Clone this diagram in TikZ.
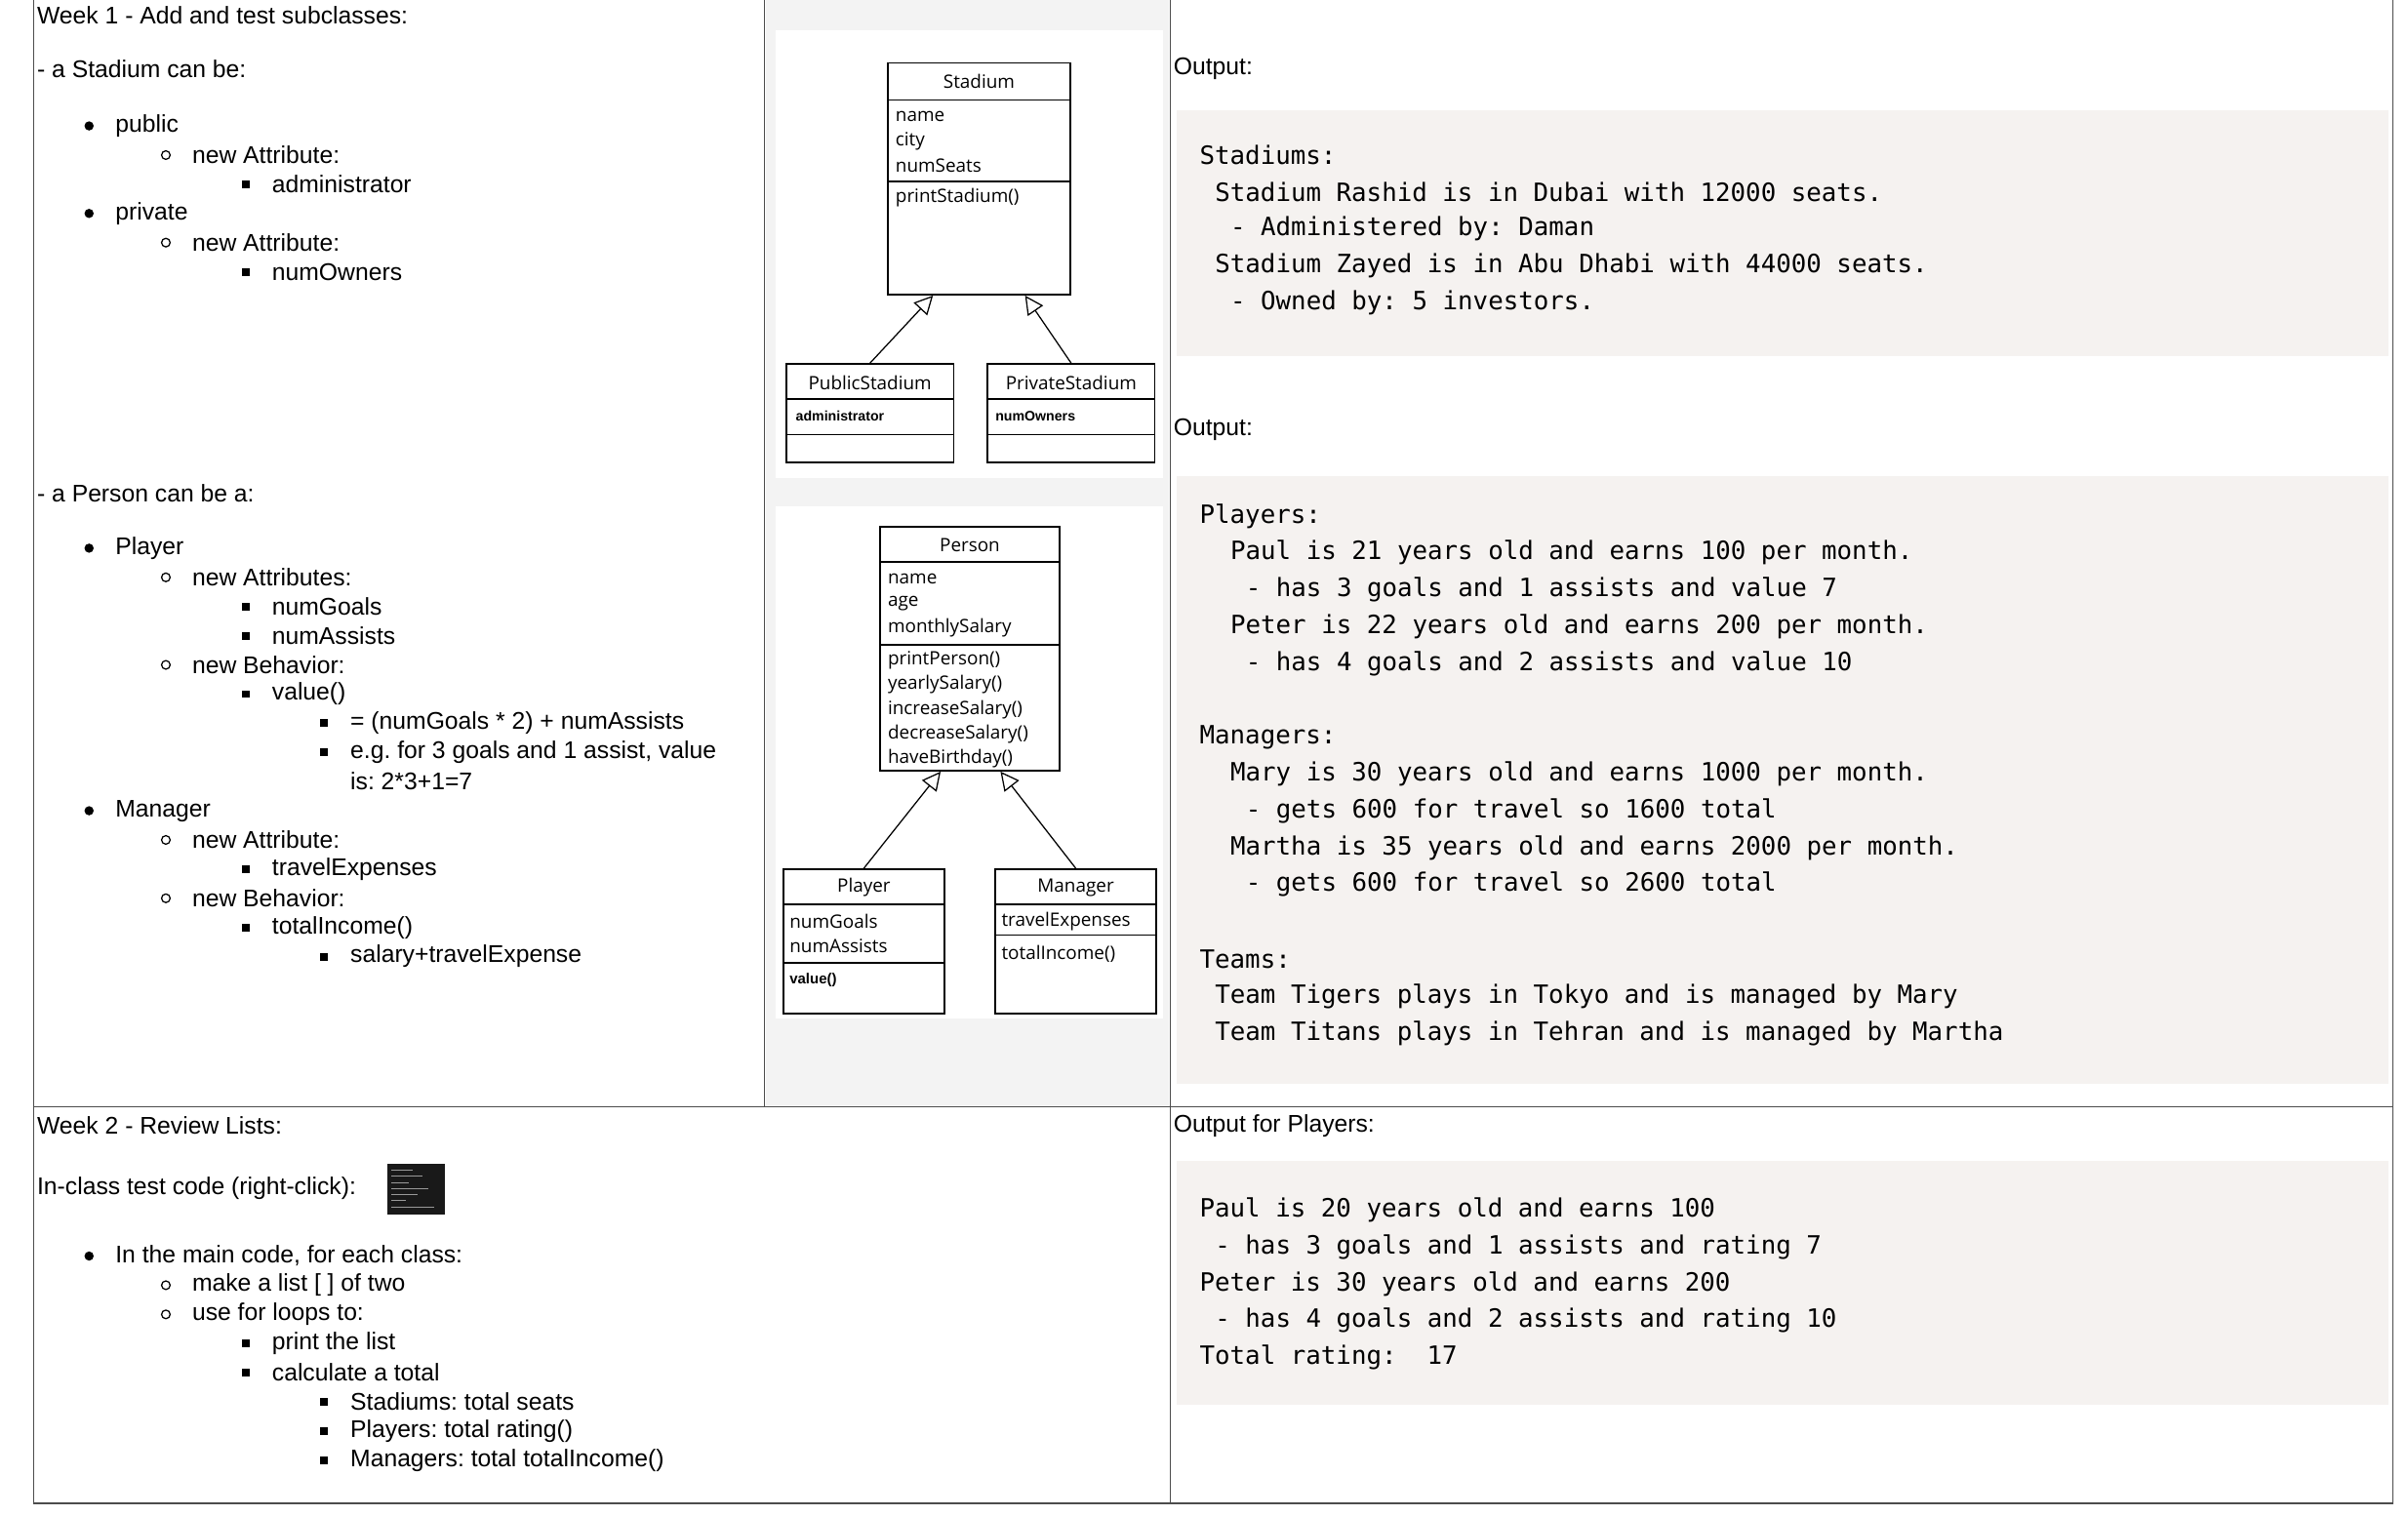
\documentclass[tikz,border=0pt]{standalone}
\usepackage{fontspec}
\setmainfont{Liberation Sans}
\newfontfamily\codefont{DejaVu Sans Mono}
\newfontfamily\umlfont{Open Sans}
\usetikzlibrary{arrows.meta}
\frenchspacing
\definecolor{codebg}{HTML}{F5F2F0}
\definecolor{colbg}{HTML}{F3F3F3}
\tikzset{
  txt/.style={anchor=west,inner sep=0pt,font=\fontsize{15.7}{18}\selectfont},
  code/.style={anchor=west,inner sep=0pt,font=\codefont\fontsize{16.4}{20}\selectfont},
  umlbox/.style={draw,line width=1pt,inner sep=0pt},
  umltxt/.style={anchor=west,inner sep=0pt,font=\umlfont\fontsize{12}{14}\selectfont},
  inh/.style={-{Triangle[open,length=12pt,width=12pt]},line width=0.8pt},
  frame/.style={line width=0.8pt,draw=black!70}
}
\newcommand\listmark[3]{% level, x, y
  \ifcase#1\or\fill (#2,#3) circle (3);%
  \or\draw[line width=0.8pt] (#2,#3) circle (2.8);%
  \or\fill (#2-2.5,#3-2.5) rectangle (#2+2.5,#3+2.5);%
  \or\fill (#2-2.5,#3-2.5) rectangle (#2+2.5,#3+2.5);\fi}
\begin{document}
\begin{tikzpicture}[x=1pt,y=-1pt]
\useasboundingbox (0,0) rectangle (1568,987);
% backgrounds
\fill[colbg] (499,0) rectangle (761,720);
\fill[white] (505,20) rectangle (757,311);
\fill[white] (505,330) rectangle (757,663);
\fill[codebg] (766,72) rectangle (1555,232);
\fill[codebg] (766,310) rectangle (1555,706);
\fill[codebg] (766,756) rectangle (1555,915);
% table lines
\draw[frame] (22,0) -- (22,979) -- (1558,979) -- (1558,0);
\draw[frame] (498,0) -- (498,721);
\draw[frame] (762,0) -- (762,979);
\draw[frame] (22,721) -- (1558,721);

% left column
\node[txt] (week1) at (24,10) {Week 1 - Add and test subclasses:};
\node[txt] (stadhead) at (24,45) {- a Stadium can be:};
\node[txt] (perhead) at (24,321) {- a Person can be a:};
\node[txt] (week2) at (24,733) {Week 2 - Review Lists:};
\node[txt] (testcode) at (24,774) {In-class test code (right-click):};
\foreach \lvl/\yy/\tx [count=\i] in {
  1/82/public, 2/101/{new Attribute:}, 3/120/administrator,
  1/139/private, 2/158/{new Attribute:}, 3/177/numOwners,
  1/357/Player, 2/376/{new Attributes:}, 3/395/numGoals, 3/414/numAssists,
  2/433/{new Behavior:}, 3/452/value(), 4/471/{= (numGoals * 2) + numAssists},
  4/490/{e.g. for 3 goals and 1 assist, value},
  1/528/Manager, 2/547/{new Attribute:}, 3/566/travelExpenses,
  2/585/{new Behavior:}, 3/604/totalIncome(), 4/623/salary+travelExpense,
  1/818/{In the main code, for each class:}, 2/837/{make a list [ ] of two},
  2/856/{use for loops to:}, 3/875/{print the list}, 3/894/{calculate a total},
  4/913/{Stadiums: total seats}, 4/932/{Players: total rating()},
  4/951/{Managers: total totalIncome()}}{
  \pgfmathsetmacro\bx{ifthenelse(\lvl==1,58,ifthenelse(\lvl==2,108,ifthenelse(\lvl==3,160,211)))}
  \listmark{\lvl}{\bx}{\yy}
  \node[txt] (item\i) at (\bx+17,\yy) {\tx};
}
\node[txt] (itemcont) at (228,509) {is: 2*3+1=7};
% thumbnail of the test code
\fill[black!90] (252,758) rectangle (290,791);
\foreach \yy/\ww in {762/14,766/20,770/11,774/24,778/17,782/9,786/28}
  \draw[white!60!black,line width=0.6pt] (255,\yy) -- ++(\ww,0);

% Stadium diagram
\node[umlbox,minimum width=119,minimum height=151] (stadium) at (637.5,116.5) {};
\draw[line width=1pt] (578,65) -- (697,65) (578,118) -- (697,118);
\node[umltxt,anchor=center] (stadname) at (637.5,53) {Stadium};
\node[umltxt] (stadattr) at (583,76) {name};
\node[umltxt] at (583,92) {city};
\node[umltxt] at (583,108) {numSeats};
\node[umltxt] (stadop) at (583,129) {printStadium()};
\node[umlbox,minimum width=109,minimum height=64] (pub) at (566.5,269) {};
\draw[line width=1pt] (512,260) -- (621,260) (512,283) -- (621,283);
\node[umltxt,anchor=center] (pubname) at (566.5,249) {PublicStadium};
\node[umltxt,font=\bfseries\fontsize{9}{10}\selectfont] (pubattr) at (518,271) {administrator};
\node[umlbox,minimum width=109,minimum height=64] (priv) at (697.5,269) {};
\draw[line width=1pt] (643,260) -- (752,260) (643,283) -- (752,283);
\node[umltxt,anchor=center] (privname) at (697.5,249) {PrivateStadium};
\node[umltxt,font=\bfseries\fontsize{9}{10}\selectfont] (privattr) at (648,271) {numOwners};
\draw[inh] (pub.north) -- ([xshift=-30pt]stadium.south);
\draw[inh] (priv.north) -- ([xshift=30pt]stadium.south);

% Person diagram
\node[umlbox,minimum width=117,minimum height=159] (person) at (631.5,422.5) {};
\draw[line width=1pt] (573,366) -- (690,366) (573,420) -- (690,420);
\node[umltxt,anchor=center] (pername) at (631.5,355) {Person};
\foreach \tx [count=\i] in {name,age,monthlySalary}
  \node[umltxt] (perattr\i) at (578,361+16*\i) {\tx};
\foreach \tx [count=\i] in {printPerson(),yearlySalary(),increaseSalary(),decreaseSalary(),haveBirthday()}
  \node[umltxt] (perop\i) at (578,414+16*\i) {\tx};
\node[umlbox,minimum width=105,minimum height=94] (player) at (562.5,613) {};
\draw[line width=1pt] (510,589) -- (615,589) (510,627) -- (615,627);
\node[umltxt,anchor=center] (playname) at (562.5,578) {Player};
\node[umltxt] (playattr1) at (514,600) {numGoals};
\node[umltxt] (playattr2) at (514,616) {numAssists};
\node[umltxt,font=\bfseries\fontsize{9.5}{11}\selectfont] (playop) at (514,638) {value()};
\node[umlbox,minimum width=105,minimum height=94] (manager) at (700.5,613) {};
\draw[line width=1pt] (648,589) -- (753,589) (648,609) -- (753,609);
\node[umltxt,anchor=center] (mgrname) at (700.5,578) {Manager};
\node[umltxt] (mgrattr) at (652,600) {travelExpenses};
\node[umltxt] (mgrop) at (652,621) {totalIncome()};
\draw[inh] (player.north) -- ([xshift=-19pt]person.south);
\draw[inh] (manager.north) -- ([xshift=20pt]person.south);

% right column
\node[txt] (out1) at (764,45) {Output:};
\node[txt] (out2) at (764,280) {Output:};
\node[txt] (out3) at (764,733) {Output for Players:};
\foreach \xx/\yy/\tx [count=\i] in {
  781/101/{Stadiums:}, 791/125/{Stadium Rashid is in Dubai with 12000 seats.},
  801/149/{- Administered by: Daman}, 791/173/{Stadium Zayed is in Abu Dhabi with 44000 seats.},
  801/197/{- Owned by: 5 investors.},
  781/336/{Players:}, 801/360/{Paul is 21 years old and earns 100 per month.},
  811/384/{- has 3 goals and 1 assists and value 7},
  801/408/{Peter is 22 years old and earns 200 per month.},
  811/432/{- has 4 goals and 2 assists and value 10},
  781/480/{Managers:}, 801/504/{Mary is 30 years old and earns 1000 per month.},
  811/528/{- gets 600 for travel so 1600 total},
  801/552/{Martha is 35 years old and earns 2000 per month.},
  811/576/{- gets 600 for travel so 2600 total},
  781/625/{Teams:}, 791/649/{Team Tigers plays in Tokyo and is managed by Mary},
  791/673/{Team Titans plays in Tehran and is managed by Martha},
  781/788/{Paul is 20 years old and earns 100},
  791/812/{- has 3 goals and 1 assists and rating 7},
  781/836/{Peter is 30 years old and earns 200},
  791/860/{- has 4 goals and 2 assists and rating 10},
  781/884/{Total rating:\ \ 17}}
  \node[code] (out\i) at (\xx,\yy) {\tx};
\end{tikzpicture}
\end{document}
